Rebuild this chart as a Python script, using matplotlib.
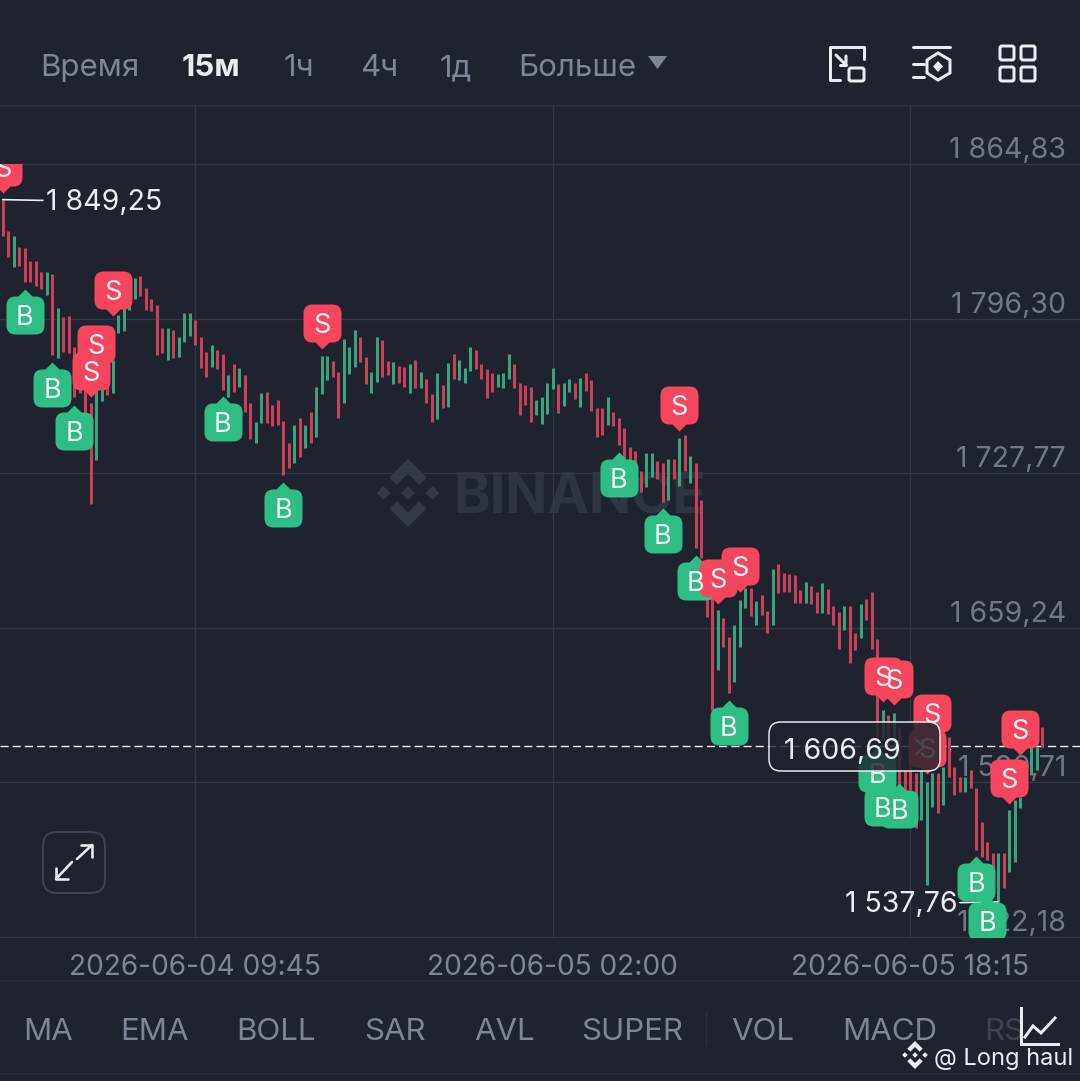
import matplotlib
matplotlib.use('Agg')
import matplotlib.pyplot as plt
from matplotlib.patches import FancyBboxPatch, Polygon, Rectangle
from matplotlib.path import Path

highs = [
    1849.25, 1835.5, 1833.1, 1828.1, 1827.6, 1822.0, 1822.2, 1817.3, 1817.3, 1816.3,
    1801.0, 1797.3, 1797.6, 1784.0, 1781.1, 1764.8, 1758.9, 1764.8, 1770.7, 1772.2,
    1778.1, 1798.1, 1801.0, 1807.7, 1814.3, 1815.4, 1809.9, 1805.0, 1802.5, 1792.5,
    1792.2, 1791.4, 1788.2, 1799.1, 1799.1, 1795.9, 1788.5, 1781.8, 1784.6, 1782.6,
    1780.8, 1771.5, 1776.3, 1774.4, 1771.5, 1758.9, 1750.8, 1763.6, 1764.1, 1758.2,
    1760.4, 1751.2, 1741.4, 1749.3, 1752.2, 1749.3, 1754.9, 1766.3, 1779.9, 1779.9,
    1777.8, 1772.6, 1787.3, 1784.0, 1791.4, 1788.2, 1779.3, 1773.0, 1788.5, 1787.0,
    1777.5, 1777.2, 1775.5, 1775.2, 1776.2, 1778.1, 1773.0, 1769.5, 1763.0, 1772.2,
    1767.0, 1776.9, 1780.6, 1778.1, 1774.4, 1783.7, 1782.6, 1776.3, 1774.1, 1772.2,
    1771.9, 1772.2, 1780.6, 1776.2, 1768.1, 1766.9, 1766.0, 1760.4, 1761.6, 1767.8,
    1774.4, 1767.5, 1768.1, 1769.5, 1768.1, 1770.0, 1772.2, 1769.2, 1756.7, 1756.7,
    1761.6, 1754.9, 1752.2, 1747.8, 1739.7, 1737.8, 1729.0, 1736.7, 1736.7, 1733.3,
    1732.3, 1734.1, 1734.1, 1743.4, 1744.9, 1735.5, 1732.6, 1716.0, 1673.1, 1673.1,
    1667.2, 1663.5, 1655.4, 1660.6, 1671.7, 1676.8, 1676.8, 1671.2, 1673.9, 1666.8,
    1685.3, 1687.6, 1683.8, 1683.2, 1682.7, 1676.1, 1679.8, 1677.9, 1675.4, 1679.0,
    1676.4, 1669.0, 1666.5, 1669.0, 1669.2, 1656.9, 1669.9, 1672.0, 1675.4, 1654.2,
    1622.9, 1620.6, 1621.4, 1615.5, 1596.3, 1606.6, 1594.8, 1596.3, 1591.1, 1594.8,
    1594.8, 1597.7, 1611.0, 1597.7, 1593.3, 1593.3, 1596.3, 1588.1, 1573.3, 1564.5,
    1559.3, 1559.3, 1559.3, 1578.5, 1582.9, 1584.4, 1597.7, 1606.6, 1606.6, 1615.5,
]
lows = [
    1833.1, 1823.7, 1819.5, 1819.8, 1812.9, 1812.9, 1810.9, 1809.5, 1807.0, 1780.3,
    1779.2, 1781.8, 1781.1, 1761.9, 1763.3, 1754.5, 1714.2, 1733.8, 1760.1, 1762.6,
    1763.6, 1789.9, 1791.1, 1800.3, 1805.0, 1806.5, 1800.3, 1800.0, 1780.3, 1781.1,
    1778.1, 1778.9, 1779.3, 1786.3, 1788.8, 1784.8, 1774.4, 1770.4, 1774.9, 1774.0,
    1764.8, 1761.6, 1764.1, 1766.0, 1755.2, 1742.9, 1741.4, 1750.0, 1750.0, 1748.8,
    1749.3, 1727.1, 1730.1, 1732.3, 1734.9, 1739.0, 1741.4, 1744.1, 1762.9, 1769.2,
    1770.4, 1752.5, 1759.2, 1771.9, 1774.9, 1777.1, 1767.5, 1763.3, 1768.2, 1770.4,
    1771.3, 1767.5, 1767.8, 1766.3, 1763.3, 1765.5, 1765.5, 1759.2, 1750.8, 1751.8,
    1756.8, 1757.1, 1769.5, 1769.2, 1767.8, 1773.2, 1774.0, 1769.8, 1761.3, 1764.1,
    1766.3, 1765.5, 1769.5, 1765.5, 1753.7, 1758.2, 1750.8, 1753.7, 1749.7, 1754.0,
    1765.1, 1754.5, 1757.7, 1764.1, 1760.7, 1757.4, 1764.5, 1755.6, 1743.8, 1744.9,
    1749.3, 1748.8, 1740.4, 1734.5, 1732.3, 1730.8, 1719.7, 1721.9, 1726.4, 1725.2,
    1715.3, 1716.0, 1725.2, 1722.4, 1729.0, 1723.4, 1694.6, 1690.3, 1664.0, 1622.9,
    1640.6, 1650.7, 1630.6, 1635.4, 1650.9, 1668.0, 1664.6, 1660.6, 1665.0, 1656.9,
    1660.6, 1674.6, 1675.4, 1675.4, 1670.5, 1670.2, 1670.5, 1669.9, 1666.0, 1666.0,
    1665.4, 1660.6, 1649.8, 1658.3, 1643.6, 1649.5, 1654.7, 1662.8, 1649.8, 1611.0,
    1609.5, 1606.6, 1603.6, 1588.1, 1584.4, 1587.4, 1570.4, 1574.1, 1545.2, 1580.0,
    1577.0, 1580.7, 1593.3, 1585.2, 1586.6, 1586.6, 1588.1, 1560.8, 1557.8, 1556.3,
    1550.4, 1537.76, 1543.8, 1551.2, 1555.6, 1579.3, 1593.3, 1594.0, 1596.3, 1606.6,
]
directions = (
    'RRGRRRRRGR' 'GRRRRRRGGR' 'GGGGGRRRRR' 'GRGGGRRRGR' 'RGRGRRGGRR'
    'RRRGRGRGGG' 'RRGGGRRGGR' 'RGRRGRGRRG' 'RGRGGGRRRR' 'GGGRRRRGGG'
    'GRGGRGRRRR' 'GRRRRRRGGR' 'RGRGRGRRRR' 'GRRGGGRGRR' 'GRRRRRGRRG'
    'RRRGRRGRRR' 'GRGRRRRGGG' 'RGRRRGRRRR' 'RGRGGGGGGR'
)

# buy / sell flags: side, candle index, price the pointer touches
flag_sides = 'SBSBSSBBBSBSBBSBSBSSBBSSBBSS'
flag_idx = [0, 4, 20, 9, 17, 16, 13, 40, 51, 58, 112, 123, 120, 126, 130, 132, 134,
            159, 160, 162, 160, 163, 169, 168, 177, 179, 185, 183]
flag_price = [1852.2, 1809.5, 1797.8, 1777.1, 1773.5, 1761.5, 1758.1, 1762.1, 1723.9, 1782.8,
              1737.2, 1746.4, 1712.4, 1691.5, 1669.7, 1627.2, 1675.4,
              1606.4, 1626.2, 1624.9, 1591.3, 1590.4, 1610.2, 1594.3, 1558.0, 1540.7, 1603.1, 1581.0]

price_ticks = [1864.83, 1796.30, 1727.77, 1659.24, 1590.71, 1522.18]
price_labels = ['1 864,83', '1 796,30', '1 727,77', '1 659,24', '1 590,71', '1 522,18']
time_ticks = [35, 100, 165]
time_labels = ['2026-06-04 09:45', '2026-06-05 02:00', '2026-06-05 18:15']
last_price = 1606.69
max_price = 1849.25
max_idx = 0
min_price = 1537.76
min_idx = 181

periods = ['Время', '15м', '1ч', '4ч', '1д', 'Больше']
period_x = [40, 182, 284, 360, 440, 518]
indicators = ['MA', 'EMA', 'BOLL', 'SAR', 'AVL', 'SUPER', 'VOL', 'MACD', 'RS']
indicator_x = [23, 120, 236, 364, 474, 581, 731, 842, 984]

BG = '#1e232d'
GRID = '#323843'
MUTED = '#7d8694'
AXIS_TEXT = '#6f7885'
RED = '#c8405c'
GREEN = '#3aa37c'
SELL = '#f6465d'
BUY = '#2ebd85'
WHITE = '#eaecef'
FONT = 'Inter'
PX = 0.72  # points per pixel at dpi 100

plt.rcParams['font.family'] = [FONT, 'DejaVu Sans']

fig = plt.figure(figsize=(10.8, 10.81), dpi=100, facecolor=BG)


def pixel_axes(zorder):
    a = fig.add_axes([0, 0, 1, 1], zorder=zorder)
    a.set_xlim(0, 1080)
    a.set_ylim(1081, 0)
    a.axis('off')
    return a


def logo(a, cx, cy, r, color, z=1):
    def diamond(x, y, h):
        a.add_patch(Polygon([(x, y - h), (x + h, y), (x, y + h), (x - h, y)], color=color, lw=0, zorder=z))
    diamond(cx, cy, 0.2 * r)
    diamond(cx - 0.72 * r, cy, 0.2 * r)
    diamond(cx + 0.72 * r, cy, 0.2 * r)
    for s in (-1, 1):
        pts = [(0, 1), (0.55, 0.45), (0.33, 0.24), (0, 0.57), (-0.33, 0.24), (-0.55, 0.45)]
        a.add_patch(Polygon([(cx + x * r, cy + s * y * r) for x, y in pts], color=color, lw=0, zorder=z))


def outline(a, x0, y0, x1, y1, r, color, lw, fc='none', z=3):
    a.add_patch(FancyBboxPatch((x0, y0), x1 - x0, y1 - y0, boxstyle='round,pad=0,rounding_size=%s' % r,
                               fc=fc, ec=color, lw=lw, zorder=z))


# backdrop: toolbar, rules, watermark
back = pixel_axes(0)
back.add_patch(Rectangle((0, 0), 1080, 1081, color=BG, lw=0, zorder=0))
for y, w in [(105.5, 2), (980.5, 1.5), (1073.5, 1.5)]:
    back.plot([0, 1080], [y, y], color='#2b303b', lw=w * PX)
for name, x in zip(periods, period_x):
    active = name == '15м'
    back.text(x, 65, name, color=WHITE if active else MUTED, fontsize=22.5,
              fontweight='bold' if active else 'normal', va='center_baseline')
back.add_patch(Polygon([(648, 56), (667, 56), (657.5, 69)], color=MUTED, lw=0))

# toolbar icons
ic = dict(color=WHITE, lw=3 * PX, solid_capstyle='round')
back.plot([840, 830, 830, 864, 864], [80, 80, 47, 47, 59], **ic)
back.plot([836, 846, 846], [55, 65, 56], **ic)
back.plot([840, 846], [65, 65], **ic)
outline(back, 849, 68, 864, 81, 2, WHITE, 3 * PX)
back.plot([913, 950], [47, 47], **ic)
back.plot([913, 924], [64, 64], **ic)
back.plot([913, 924], [77, 77], **ic)
back.add_patch(Polygon([(938, 53), (950, 60), (950, 73), (938, 80), (927, 73), (927, 60)],
                       fc='none', ec=WHITE, lw=3 * PX))
back.add_patch(Polygon([(938, 61), (943, 66.5), (938, 72), (933, 66.5)], color=WHITE, lw=0))
for x0, y0 in [(1000, 46), (1021, 46), (1000, 67), (1021, 67)]:
    outline(back, x0, y0, x0 + 14, y0 + 14, 2, WHITE, 3 * PX)

logo(back, 408, 493, 34, '#343a45')
back.text(453, 493, 'BINANCE', color='#2f3540', fontsize=40, fontweight='bold', va='center_baseline')

# expand button
outline(back, 43, 832, 105, 893, 14, '#3d4350', 2 * PX)
btn = dict(color=WHITE, lw=2.6 * PX, solid_capstyle='round')
back.plot([56, 72], [879, 862], **btn)
back.plot([56, 56, 68], [868, 879, 879], **btn)
back.plot([77, 92], [859, 845], **btn)
back.plot([81, 92, 92], [845, 845, 857], **btn)

# indicator row
for name, x in zip(indicators, indicator_x):
    back.text(x, 1029, name, color=MUTED if name != 'RS' else '#3d4350', fontsize=22.5, va='center_baseline')
back.plot([706, 706], [1012, 1045], color='#2b303b', lw=1.2 * PX)

# chart
ax = fig.add_axes([0, (1081 - 937) / 1081, 1, (937 - 105) / 1081], zorder=1)
ax.patch.set_alpha(0)
ax.set_xlim(-0.49, 195.87)
ax.set_ylim(1522.18, 1891.22)
ax.set_axisbelow(True)
ax.grid(True, color=GRID, lw=1.4 * PX)
for side in ['top', 'left', 'right']:
    ax.spines[side].set_visible(False)
ax.spines['bottom'].set_color(GRID)
ax.set_xticks(time_ticks, time_labels)
ax.tick_params(axis='x', length=0, pad=12, labelsize=20.2, labelcolor=MUTED)
ax.yaxis.tick_right()
ax.set_yticks(price_ticks, price_labels)
ax.tick_params(axis='y', length=0, pad=-14 * PX, labelsize=20.5, labelcolor=AXIS_TEXT)
for lab in ax.get_yticklabels():
    lab.set_ha('right')
    lab.set_va('bottom')

idx = list(range(len(highs)))
colors = [GREEN if d == 'G' else RED for d in directions]
ax.vlines(idx, lows, highs, colors=colors, lw=3 * PX, zorder=2)
ax.axhline(last_price, color=WHITE, lw=1.4 * PX, dashes=(5.8, 2.9), zorder=1.5)

ax.annotate('1 849,25', xy=(max_idx, max_price), xytext=(43 * PX, 0), textcoords='offset points',
            color=WHITE, fontsize=20.5, va='center_baseline', ha='left', zorder=3,
            arrowprops=dict(arrowstyle='-', color=WHITE, lw=1.2, shrinkA=0, shrinkB=0, relpos=(0, 0.58)))
ax.annotate('1 537,76', xy=(min_idx, min_price), xytext=(-41 * PX, 0), textcoords='offset points',
            color=WHITE, fontsize=20.5, va='center_baseline', ha='right', zorder=3,
            arrowprops=dict(arrowstyle='-', color=WHITE, lw=1.2, shrinkA=0, shrinkB=0, relpos=(1, 0.58)))

# flags: rounded box with a pointer, anchored at the pointer tip
W, H, TIP, C = 19, 38, 7, 9
sell_shape = Path(
    [(-W, TIP + C), (-W, TIP), (-W + C, TIP), (-7, TIP), (0, 0), (7, TIP), (W - C, TIP), (W, TIP), (W, TIP + C),
     (W, TIP + H - C), (W, TIP + H), (W - C, TIP + H), (-W + C, TIP + H), (-W, TIP + H), (-W, TIP + H - C),
     (-W, TIP + C)],
    [Path.MOVETO, Path.CURVE3, Path.CURVE3, Path.LINETO, Path.LINETO, Path.LINETO, Path.LINETO, Path.CURVE3,
     Path.CURVE3, Path.LINETO, Path.CURVE3, Path.CURVE3, Path.LINETO, Path.CURVE3, Path.CURVE3, Path.CLOSEPOLY])
buy_shape = Path([(x, -y) for x, y in sell_shape.vertices], sell_shape.codes)
shape_size = 2 * (TIP + H) * PX

top_clip = Rectangle((-1, 1522.18), 200, 1864.83 - 1522.18, transform=ax.transData)
for n, (side, i, p) in enumerate(zip(flag_sides, flag_idx, flag_price)):
    sell = side == 'S'
    m, = ax.plot([i], [p], marker=sell_shape if sell else buy_shape, ms=shape_size, mew=0,
                 mfc=SELL if sell else BUY, zorder=4 + n * 0.01, ls='none')
    m.set_clip_path(top_clip)
    off = (TIP + H / 2) * PX * (1 if sell else -1)
    # letters sit above every box, overlapping flags still show both letters
    t = ax.annotate(side, xy=(i, p), xytext=(0, off), textcoords='offset points', color='#f4f5f6',
                    fontsize=19.5, ha='center', va='center_baseline', zorder=5)
    t.set_clip_on(True)
    t.set_clip_path(top_clip)

# things on top of the chart
front = pixel_axes(2)
outline(front, 769, 722, 940, 771, 12, '#e8eaed', 1.5 * PX, fc=(0.118, 0.137, 0.176, 0.82))
front.text(784, 748, '1 606,69', color=WHITE, fontsize=20.5, va='center_baseline')
front.plot([916, 924, 916], [740, 747, 754], color=WHITE, lw=2 * PX)

ic2 = dict(color=WHITE, lw=3 * PX, solid_joinstyle='miter')
front.plot([1021, 1021, 1058], [1008, 1044, 1044], **ic2)
front.plot([1025, 1033, 1041, 1055], [1037, 1026, 1033, 1018], **ic2)
logo(front, 915, 1055, 14, WHITE, z=5)
front.text(934, 1056, '@ Long haul', color=WHITE, fontsize=17, va='center_baseline')

fig.savefig('out.png', dpi=100, facecolor=BG)
